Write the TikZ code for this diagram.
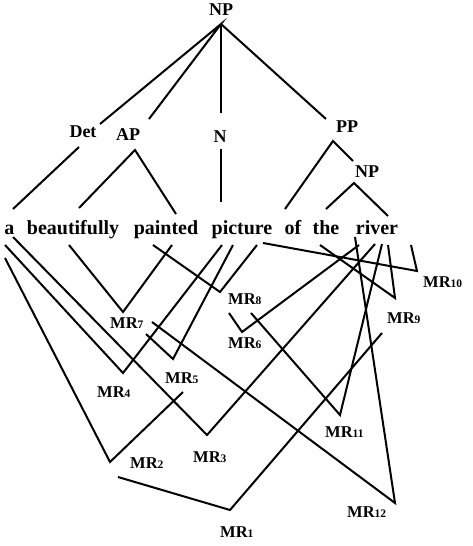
\documentclass[tikz,border=0pt]{standalone}
\usepackage{fontspec}
\setmainfont{Liberation Serif}
\newcommand\mrlab[1]{MR{\fontsize{11.5}{11.5}\selectfont #1}}
\begin{document}
\begin{tikzpicture}[x=1pt,y=-1pt,
  link/.style={line width=2pt, line join=miter, line cap=butt},
  word/.style={anchor=base, inner sep=0pt, font=\fontsize{20}{20}\selectfont\bfseries},
  cat/.style={anchor=base, inner sep=0pt, font=\fontsize{18}{18}\selectfont\bfseries},
  mr/.style={anchor=base west, inner sep=0pt, font=\fontsize{16.5}{16.5}\selectfont\bfseries}]
\useasboundingbox (0,0) rectangle (472,546);

% ---------- tree labels ----------
\node[cat] (np)  at (221,15)  {NP};
\node[cat] (det) at (83,137)  {Det};
\node[cat] (ap)  at (128,140) {AP};
\node[cat] (n)   at (220,142) {N};
\node[cat] (pp)  at (347,132) {PP};
\node[cat] (np2) at (367,177) {NP};

% ---------- words ----------
\node[word] (wa)    at (9.5,234) {a};
\node[word] (wbeau) at (73,234)  {beautifully};
\node[word] (wpain) at (166,234) {painted};
\node[word] (wpict) at (242,234) {picture};
\node[word] (wof)   at (293,234) {of};
\node[word] (wthe)  at (326,234) {the};
\node[word] (wriv)  at (377,234) {river};

% ---------- tree coordinates ----------
\coordinate (npA)  at (221,24);
\coordinate (npD)  at (100,124);
\coordinate (npAP) at (149,119);
\coordinate (npN)  at (221,113);
\coordinate (npPP) at (326,119);
\coordinate (detT) at (79,147);
\coordinate (detB) at (13,209);
\coordinate (apA)  at (135,150);
\coordinate (apL)  at (79,208);
\coordinate (apR)  at (176,214);
\coordinate (nT)   at (221,149);
\coordinate (nB)   at (221,202);
\coordinate (ppA)  at (333,141);
\coordinate (ppL)  at (285,209);
\coordinate (ppR)  at (353,161);
\coordinate (np2A) at (354,183);
\coordinate (np2L) at (326,209);
\coordinate (np2R) at (388,216);

\draw[link] (npD) -- (npA) -- (npAP);
\draw[link] (npA) -- (npN);
\draw[link] (npA) -- (npPP);
\draw[link] (detT) -- (detB);
\draw[link] (apL) -- (apA) -- (apR);
\draw[link] (nT) -- (nB);
\draw[link] (ppL) -- (ppA) -- (ppR);
\draw[link] (np2L) -- (np2A) -- (np2R);

% ---------- MR labels ----------
\node[mr] (mr1)  at (220,537) {\mrlab{1}};
\node[mr] (mr2)  at (130,468) {\mrlab{2}};
\node[mr] (mr3)  at (193,462) {\mrlab{3}};
\node[mr] (mr4)  at (97,397)  {\mrlab{4}};
\node[mr] (mr5)  at (165,383) {\mrlab{5}};
\node[mr] (mr6)  at (228,348) {\mrlab{6}};
\node[mr] (mr7)  at (110,328) {\mrlab{7}};
\node[mr] (mr8)  at (228,304) {\mrlab{8}};
\node[mr] (mr9)  at (387,323) {\mrlab{9}};
\node[mr] (mr10) at (423,287) {\mrlab{10}};
\node[mr] (mr11) at (325,437) {\mrlab{11}};
\node[mr] (mr12) at (347,517) {\mrlab{12}};

% ---------- MR coordinates ----------
\coordinate (m1a) at (118,477); \coordinate (m1v) at (230,510); \coordinate (m1b) at (382,333);
\coordinate (m2a) at (5,258);   \coordinate (m2v) at (110,462); \coordinate (m2b) at (183,392);
\coordinate (m3a) at (13,237);  \coordinate (m3v) at (207,435); \coordinate (m3b) at (375,244);
\coordinate (m4a) at (5,245);   \coordinate (m4v) at (123,373); \coordinate (m4b) at (222,245);
\coordinate (m5a) at (233,245); \coordinate (m5v) at (173,359); \coordinate (m5b) at (146,334);
\coordinate (m6a) at (229,313); \coordinate (m6v) at (242,332); \coordinate (m6b) at (359,245);
\coordinate (m7a) at (69,245);  \coordinate (m7v) at (123,312); \coordinate (m7b) at (172,245);
\coordinate (m8a) at (153,245); \coordinate (m8v) at (220,292); \coordinate (m8b) at (257,245);
\coordinate (m9a) at (320,245); \coordinate (m9v) at (395,298); \coordinate (m9b) at (388,245);
\coordinate (m10a) at (263,243); \coordinate (m10v) at (417,271); \coordinate (m10b) at (411,245);
\coordinate (m11a) at (251,313); \coordinate (m11v) at (340,415); \coordinate (m11b) at (382,244);
\coordinate (m12a) at (152,322); \coordinate (m12v) at (395,503); \coordinate (m12b) at (355,237);

\draw[link] (m1a) -- (m1v) -- (m1b);
\draw[link] (m2a) -- (m2v) -- (m2b);
\draw[link] (m3a) -- (m3v) -- (m3b);
\draw[link] (m4a) -- (m4v) -- (m4b);
\draw[link] (m5a) -- (m5v) -- (m5b);
\draw[link] (m6a) -- (m6v) -- (m6b);
\draw[link] (m7a) -- (m7v) -- (m7b);
\draw[link] (m8a) -- (m8v) -- (m8b);
\draw[link] (m9a) -- (m9v) -- (m9b);
\draw[link] (m10a) -- (m10v) -- (m10b);
\draw[link] (m11a) -- (m11v) -- (m11b);
\draw[link] (m12a) -- (m12v) -- (m12b);
\end{tikzpicture}
\end{document}
